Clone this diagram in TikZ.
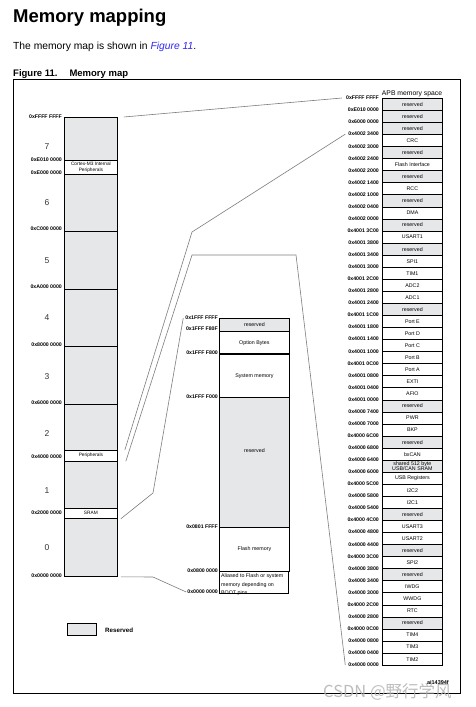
\documentclass[tikz,border=0pt]{standalone}
\usepackage{fontspec}
\setmainfont{Liberation Sans}
\newfontfamily\cjkfont{Noto Sans CJK SC}
\usepackage{xcolor}
\definecolor{resgray}{RGB}{230,231,232}
\definecolor{linkgray}{RGB}{125,125,125}
\definecolor{figblue}{RGB}{50,40,240}
\newcommand{\addrfont}{\fontsize{5.2}{6}\selectfont\bfseries}
\newcommand{\cellfont}{\fontsize{5.3}{5.6}\selectfont}

\begin{document}
\begin{tikzpicture}[x=1pt, y=-1pt,
  addr/.style={anchor=east, inner sep=0pt, font=\addrfont},
  cell/.style={draw, line width=0.8pt, anchor=north west, inner sep=0pt, font=\cellfont, align=center},
  res/.style={cell, fill=resgray},
  per/.style={cell, fill=white},
  link/.style={draw=linkgray, line width=0.6pt}]
  \useasboundingbox[fill=white] (0,0) rectangle (475,707);

  % heading
  \node[anchor=base west, inner sep=0pt, font=\fontsize{18.5}{20}\selectfont\bfseries] (title) at (13,22.7) {Memory mapping};
  \node[anchor=base west, inner sep=0pt, font=\fontsize{10.3}{12}\selectfont] (intro) at (13,49) {The memory map is shown in {\color{figblue}\itshape Figure 11}.};
  \node[anchor=base west, inner sep=0pt, font=\fontsize{9.5}{11}\selectfont\bfseries] (figcap) at (13,76) {Figure 11.\hspace{12pt}Memory map};
  \draw[line width=0.8pt] (13,79) rectangle (460,693);

  % full 4 GB map
  \node[draw, line width=0.8pt, fill=resgray, anchor=north west, minimum width=53pt, minimum height=459pt, inner sep=0pt] (lcol) at (64,117) {};
  \foreach \y in {174.4,231.8,289.2,346.6,404,461.4,518.8}
    \draw[line width=0.8pt] (64,\y) -- (117,\y);
  \node[per, anchor=south west, minimum width=53pt, minimum height=13.5pt, font=\fontsize{4.8}{5.4}\selectfont] (cortex) at (64,174.4) {Cortex-M3 Internal\\Peripherals};
  \node[per, anchor=south west, minimum width=53pt, minimum height=10.5pt, font=\fontsize{4.8}{5.4}\selectfont] (periph) at (64,461.4) {Peripherals};
  \node[per, anchor=south west, minimum width=53pt, minimum height=10.5pt, font=\fontsize{4.8}{5.4}\selectfont] (sram) at (64,518.8) {SRAM};
  \foreach \a/\y [count=\i] in {0xFFFF FFFF/117, 0xE010 0000/160, 0xE000 0000/173, 0xC000 0000/229, 0xA000 0000/287,
    0x8000 0000/345, 0x6000 0000/403, 0x4000 0000/457, 0x2000 0000/513, 0x0000 0000/576}
    \node[addr] (l\i) at (62,\y) {\a};
  \foreach \n/\y in {7/147, 6/203, 5/261, 4/318, 3/377, 2/434, 1/491, 0/548}
    \node[font=\fontsize{8.5}{9}\selectfont, text=black!80] (n\n) at (47,\y) {\n};

  % code area
  \node[res, minimum width=70pt, minimum height=13pt] (mres1) at (219,318) {reserved};
  \node[per, minimum width=70pt, minimum height=23pt] (opt) at (219,331) {Option Bytes};
  \node[per, minimum width=70pt, minimum height=43pt] (sys) at (219,354) {System memory};
  \node[res, minimum width=70pt, minimum height=130pt] (mres2) at (219,397) {reserved\\[18pt]};
  \node[per, minimum width=70pt, minimum height=44pt] (flash) at (219,527) {Flash memory};
  \node[per, minimum width=69pt, minimum height=22pt] (alias) at (219,571) {};
  \node[anchor=north west, inner sep=0pt, align=left, font=\fontsize{5.3}{8.6}\selectfont] (aliastxt) at (221,573.5) {Aliased to Flash or system\\memory depending on\\BOOT pins};
  \draw[line width=1.6pt] (sys.north west) -- (sys.north east);
  \foreach \a/\y [count=\i] in {0x1FFF FFFF/318, 0x1FFF F80F/329, 0x1FFF F800/353, 0x1FFF F000/397,
    0x0801 FFFF/527, 0x0800 0000/571, 0x0000 0000/592}
    \node[addr] (m\i) at (218,\y) {\a};

  % APB memory space
  \node[anchor=base, font=\fontsize{6.8}{8}\selectfont] (apb) at (412,95) {APB memory space};
  \foreach \sty/\txt [count=\i] in {res/reserved, res/reserved, res/reserved, per/CRC, res/reserved,
    per/Flash Interface, res/reserved, per/RCC, res/reserved, per/DMA, res/reserved, per/USART1,
    res/reserved, per/SPI1, per/TIM1, per/ADC2, per/ADC1, res/reserved, per/Port E, per/Port D,
    per/Port C, per/Port B, per/Port A, per/EXTI, per/AFIO, res/reserved, per/PWR, per/BKP,
    res/reserved, per/bxCAN, res/{shared 512 byte\\USB/CAN SRAM}, per/USB Registers, per/I2C2,
    per/I2C1, res/reserved, per/USART3, per/USART2, res/reserved, per/SPI2, res/reserved,
    per/IWDG, per/WWDG, per/RTC, res/reserved, per/TIM4, per/TIM3, per/TIM2}
    \node[\sty, minimum width=60pt, minimum height=12.06pt] (r\i) at (382,{98+(\i-1)*12.06}) {\txt};
  \foreach \a [count=\i] in {0xFFFF FFFF, 0xE010 0000, 0x6000 0000, 0x4002 3400, 0x4002 3000,
    0x4002 2400, 0x4002 2000, 0x4002 1400, 0x4002 1000, 0x4002 0400, 0x4002 0000, 0x4001 3C00,
    0x4001 3800, 0x4001 3400, 0x4001 3000, 0x4001 2C00, 0x4001 2800, 0x4001 2400, 0x4001 1C00,
    0x4001 1800, 0x4001 1400, 0x4001 1000, 0x4001 0C00, 0x4001 0800, 0x4001 0400, 0x4001 0000,
    0x4000 7400, 0x4000 7000, 0x4000 6C00, 0x4000 6800, 0x4000 6400, 0x4000 6000, 0x4000 5C00,
    0x4000 5800, 0x4000 5400, 0x4000 4C00, 0x4000 4800, 0x4000 4400, 0x4000 3C00, 0x4000 3800,
    0x4000 3400, 0x4000 3000, 0x4000 2C00, 0x4000 2800, 0x4000 0C00, 0x4000 0800, 0x4000 0400,
    0x4000 0000}
    \node[addr] (a\i) at (379,{98+(\i-1)*12.06}) {\a};

  % zoom lines
  \coordinate (bendB) at (192,232);
  \coordinate (bendC1) at (192,255);
  \coordinate (bendC2) at (296,255);
  \coordinate (bendD) at (153,493);
  \coordinate (bendE) at (153,577);
  \draw[link] ([xshift=6pt]lcol.north east) -- ([xshift=-4pt]a1.west);
  \draw[link] ([xshift=7pt]periph.north east) -- (bendB) -- ([xshift=-3pt]a4.west);
  \draw[link] ([xshift=8pt]periph.south east) -- (bendC1) -- (bendC2) -- ([xshift=-3pt]a48.west);
  \draw[link] ([xshift=3pt]sram.south east) -- (bendD) -- ([xshift=-2pt]m1.west);
  \draw[link] ([xshift=3pt]lcol.south east) -- (bendE) -- ([xshift=-1pt]m7.west);

  % legend
  \node[draw, line width=0.8pt, fill=resgray, anchor=north west, minimum width=29pt, minimum height=12pt, inner sep=0pt] (legbox) at (67,623) {};
  \node[anchor=west, inner sep=0pt, font=\fontsize{6.2}{7}\selectfont\bfseries] (legtxt) at (105,630) {Reserved};
  \node[anchor=base east, inner sep=0pt, font=\fontsize{5.5}{6}\selectfont\bfseries] (figid) at (449,684) {ai14394f};
  \node[anchor=base west, inner sep=0pt, font=\cjkfont\fontsize{16.5}{18}\selectfont, text=black!30, opacity=0.85] (wm) at (323,697) {CSDN @野行学风};
\end{tikzpicture}
\end{document}
